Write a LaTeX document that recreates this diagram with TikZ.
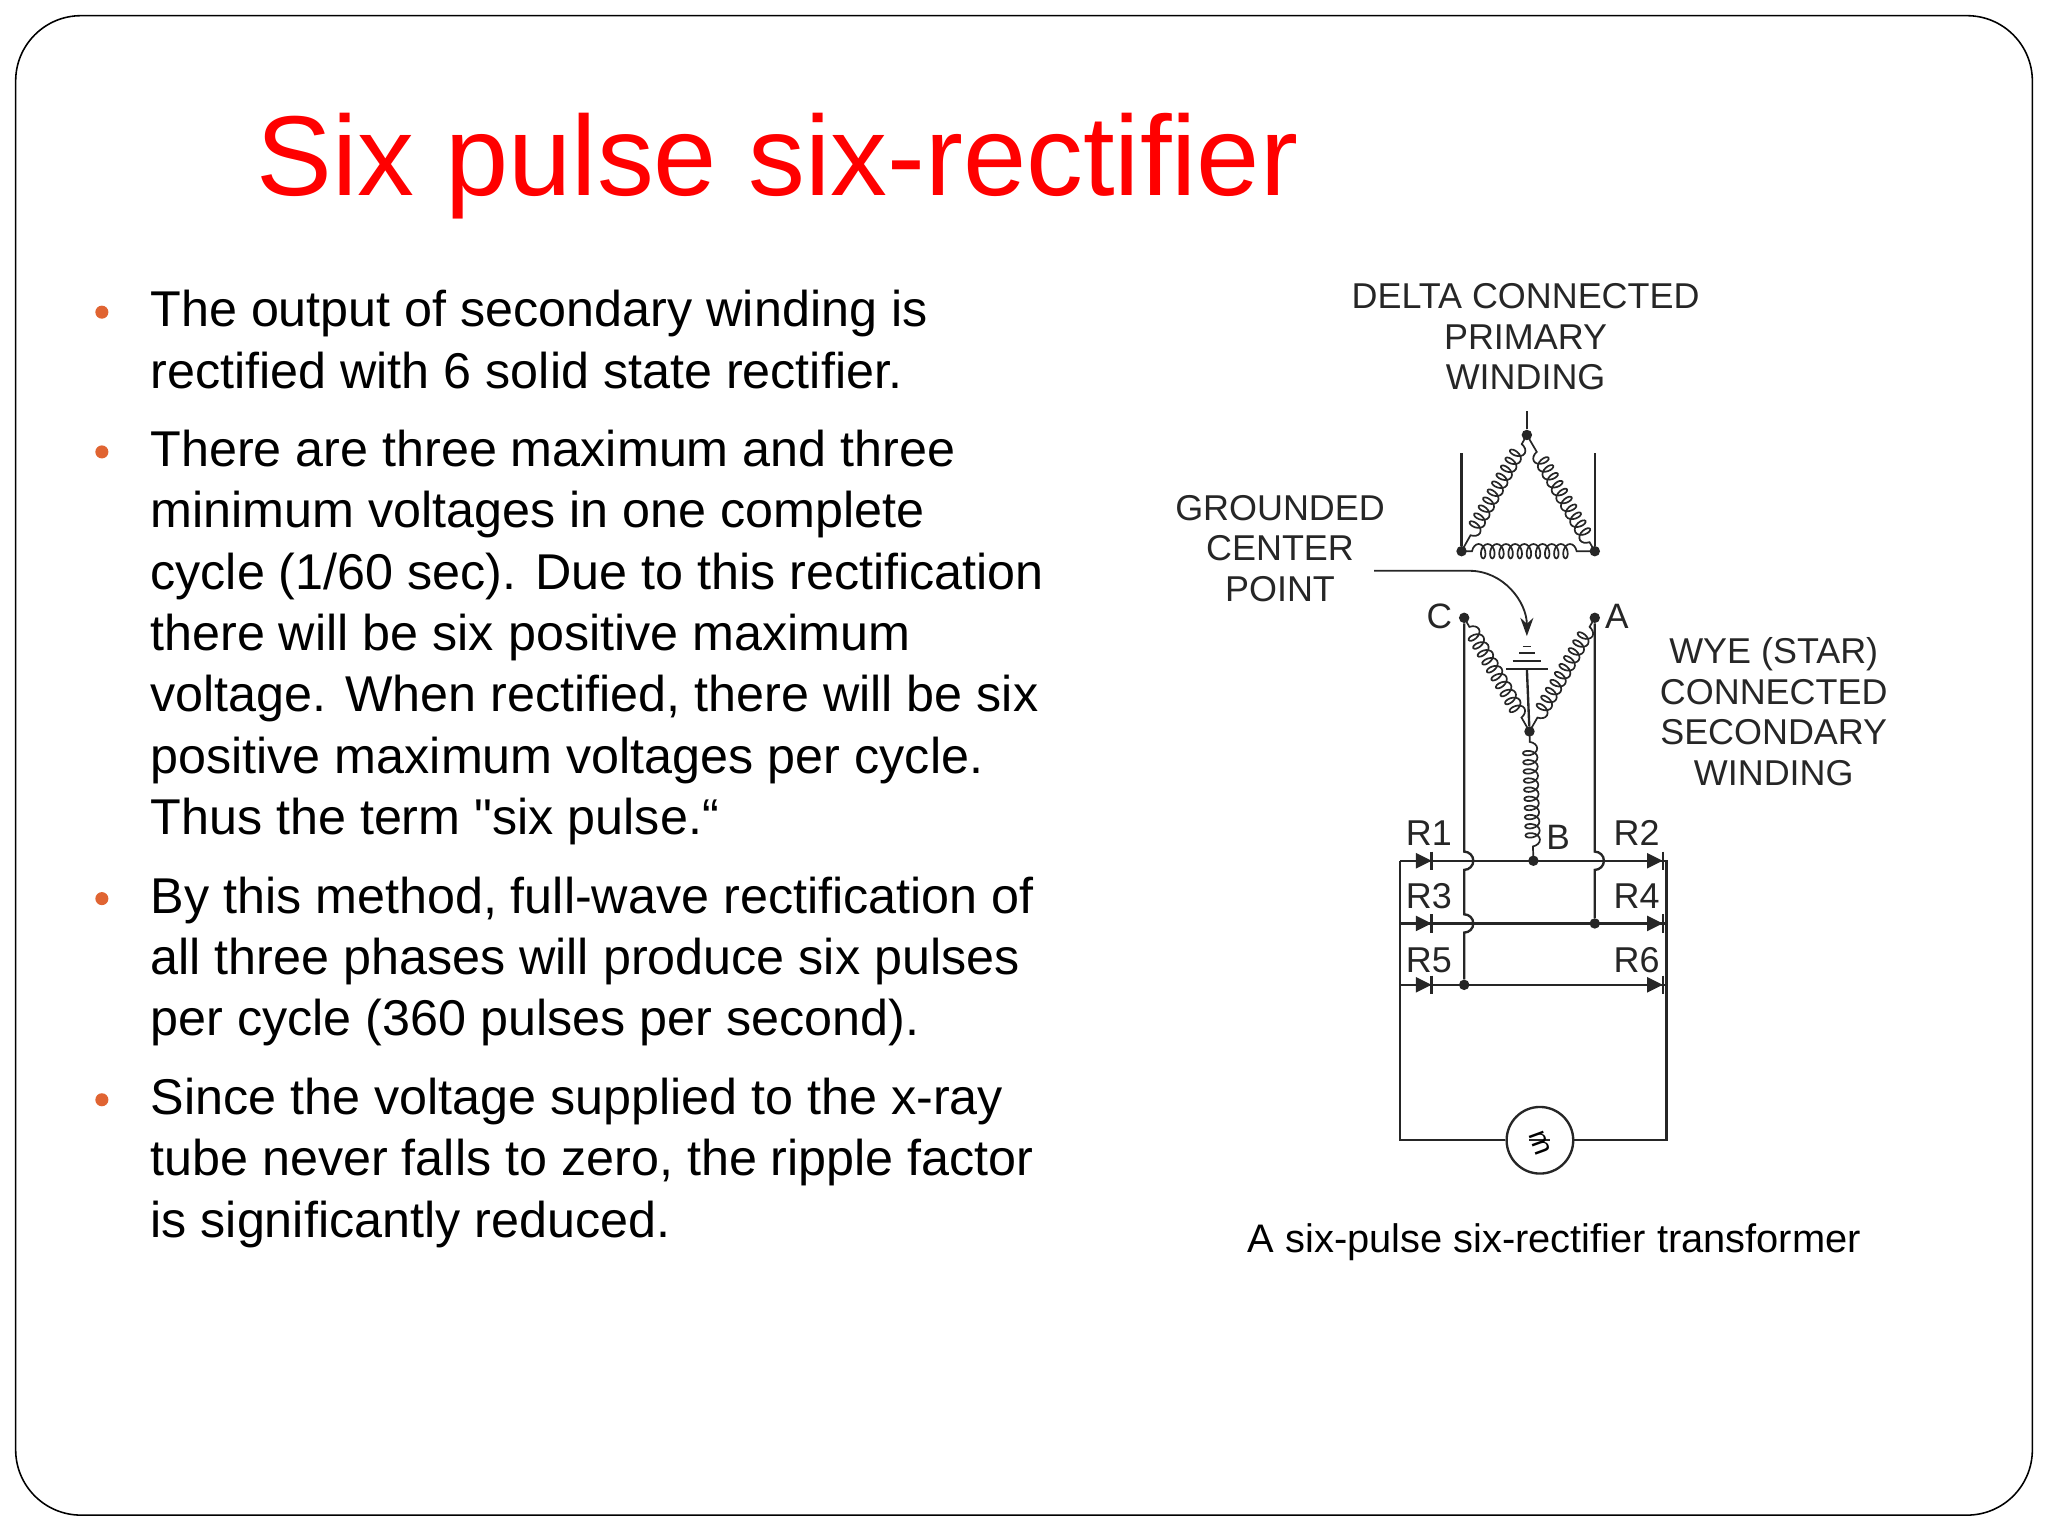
\documentclass[tikz,border=0pt]{standalone}
\usepackage{fontspec}
\setmainfont{Liberation Sans}
\newfontfamily\plainfont{Liberation Sans}
\usetikzlibrary{arrows.meta}
\usetikzlibrary{calc,positioning}
\usetikzlibrary{decorations.pathmorphing}

\definecolor{bulletorange}{RGB}{224,100,50}
\tikzset{
    wire/.style={line width=1.8pt, black!85},
    coilwire/.style={wire, line width=1.3pt, decorate, decoration={coil, amplitude=5.5pt, segment length=7pt, aspect=0.6, pre length=8pt, post length=8pt}},
    dotnode/.style={circle, fill=black!85, inner sep=0pt, minimum size=8pt},
    lbl/.style={font=\fontsize{27.5}{31}\selectfont, text=black!85, align=center, inner sep=0pt},
    bullettext/.style={font=\fontsize{38.5}{47}\selectfont, align=left, anchor=north west, inner sep=0pt},
    bulletdot/.style={circle, fill=bulletorange, inner sep=0pt, minimum size=10pt}
}
\newcommand{\diode}[2]{%
    \fill[black!85] (#1-6,#2-6) -- (#1+6,#2) -- (#1-6,#2+6) -- cycle;
    \draw[wire] (#1+6,#2-7) -- (#1+6,#2+7);}

\begin{document}
\begin{tikzpicture}[x=1pt,y=-1pt]
    \useasboundingbox (0,0) rectangle (1568,1176);
    \draw[line width=1.2pt, rounded corners=50pt] (12,12) rectangle (1556,1160);

    % title
    \node[anchor=base west, text=red, font=\fontsize{87}{100}\selectfont, inner sep=0pt] (title) at (196,150) {Six pulse six-rectifier};

    % bullets
    \node[bullettext] (b1) at (115,222) {The output of secondary winding is\\rectified with 6 solid state rectifier.};
    \node[bullettext] (b2) at (115,329) {There are three maximum and three\\minimum voltages in one complete\\cycle (1/60 sec). Due to this rectification\\there will be six positive maximum\\voltage. When rectified, there will be six\\positive maximum voltages per cycle.\\Thus the term {\plainfont"}six pulse.“};
    \node[bullettext] (b3) at (115,671) {By this method, full-wave rectification of\\all three phases will produce six pulses\\per cycle (360 pulses per second).};
    \node[bullettext] (b4) at (115,825) {Since the voltage supplied to the x-ray\\tube never falls to zero, the ripple factor\\is significantly reduced.};
    \foreach \y in {239,346,688,842}
        \node[bulletdot] at (78,\y) {};

    % labels
    \node[lbl] (delta) at (1168,258) {DELTA CONNECTED\\PRIMARY\\WINDING};
    \node[lbl] (ground) at (980,420) {GROUNDED\\CENTER\\POINT};
    \node[lbl] (wye) at (1358,545) {WYE (STAR)\\CONNECTED\\SECONDARY\\WINDING};
    \node[font=\fontsize{30.5}{34}\selectfont] (caption) at (1190,951) {A six-pulse six-rectifier transformer};

    % delta primary
    \node[dotnode] (top) at (1169,333) {};
    \node[dotnode] (dl) at (1119,422) {};
    \node[dotnode] (dr) at (1221,422) {};
    \coordinate (feed) at (1169,315);
    \draw[wire] (feed) -- (top);
    \draw[wire] (dl) -- ++(0,-75);
    \draw[wire] (dr) -- ++(0,-75);
    \draw[coilwire] (top.center) -- (dl.center);
    \draw[coilwire] (dr.center) -- (top.center);
    \draw[coilwire] (dl.center) -- (dr.center);

    % wye secondary
    \node[dotnode] (C) at (1121,473) {};
    \node[dotnode] (A) at (1221,473) {};
    \node[dotnode] (N) at (1171,560) {};
    \node[dotnode] (B) at (1174,659) {};
    \node[lbl, font=\fontsize{27}{30}\selectfont] at (1102,472) {C};
    \node[lbl, font=\fontsize{27}{30}\selectfont] at (1238,472) {A};
    \node[lbl, font=\fontsize{27}{30}\selectfont] at (1193,641) {B};
    \draw[coilwire] (C.center) -- (N.center);
    \draw[coilwire] (A.center) -- (N.center);
    \draw[coilwire] (N.center) -- (B.center);

    % ground symbol and pointer
    \coordinate (gnd) at (1169,512);
    \draw[wire] (N) -- (gnd);
    \draw[wire, line width=1.4pt] (1153,512) -- (1185,512) (1158,506) -- (1180,506) (1163,500) -- (1175,500) (1166,495) -- (1172,495);
    \draw[wire, line width=1.4pt, -{Stealth[length=14pt,width=10pt]}] (1052,437) -- (1125,437) to[out=0,in=90] (1169,487);

    % rectifier bank
    \coordinate (tl) at (1072,659);
    \coordinate (tr) at (1276,659);
    \coordinate (bl) at (1072,873);
    \coordinate (br) at (1276,873);
    \node[draw=black!85, line width=1.8pt, circle, minimum size=51pt, inner sep=0pt, fill=white] (meter) at (1179,873) {};
    \draw[wire] (tl) -- (tr) -- (br) -- (meter.east);
    \draw[wire] (meter.west) -- (bl) -- (tl);
    \draw[wire] (1072,707) -- (1276,707);
    \draw[wire] (1072,754) -- (1276,754);
    \draw[wire] (meter.center) ++(-8,0) -- ++(16,0);
    \node[rotate=-70, font=\fontsize{22}{24}\selectfont] at ($(meter.center)+(0,2)$) {m};
    \node[dotnode] (jA) at (1221,707) {};
    \node[dotnode] (jC) at (1121,754) {};
    \draw[wire] (C) -- (1121,652) arc (-90:90:7) -- (1121,700) arc (-90:90:7) -- (jC);
    \draw[wire] (A) -- (1221,652) arc (-90:90:7) -- (jA);
    \foreach \y in {659,707,754} {
        \diode{1090}{\y}
        \diode{1267}{\y}
    }
    \foreach \n/\x/\y in {R1/1094/638, R2/1253/638, R3/1094/686, R4/1253/686, R5/1094/735, R6/1253/735}
        \node[lbl] at (\x,\y) {\n};
\end{tikzpicture}
\end{document}
